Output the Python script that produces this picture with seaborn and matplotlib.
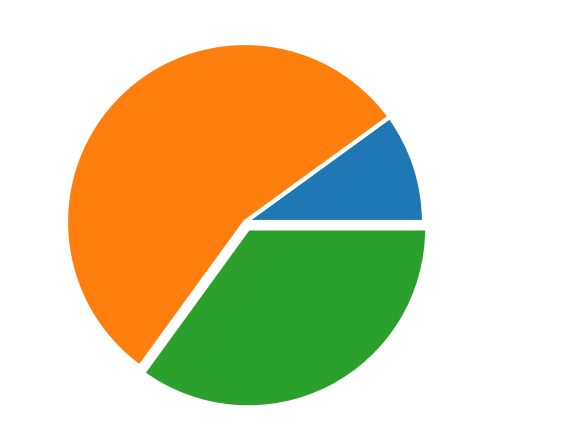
import numpy as np
import seaborn as sns
from matplotlib import pyplot as plt

# slice sizes (counter-clockwise from 3 o'clock)
labels = ['A', 'B', 'C']
sizes = [10, 55, 35]
explode = [0, 0, 0.04]

sns.set_style('white')
colors = sns.color_palette('tab10', len(sizes))

fig = plt.figure(figsize=(5.86, 4.34), dpi=100)
ax = fig.add_axes([0, 0, 1, 1])

ax.pie(sizes, explode=explode, colors=colors, startangle=0,
       wedgeprops={'edgecolor': 'white', 'linewidth': 3}, frame=True)

# place the pie where it sits in the reference (centre ~ (245, 222) px, radius ~179 px)
r = 179.0
ax.set_xlim(-245 / r, (586 - 245) / r)
ax.set_ylim(-(434 - 222) / r, 222 / r)
ax.set_aspect('auto')
ax.axis('off')

fig.savefig('out.png', dpi=100)
